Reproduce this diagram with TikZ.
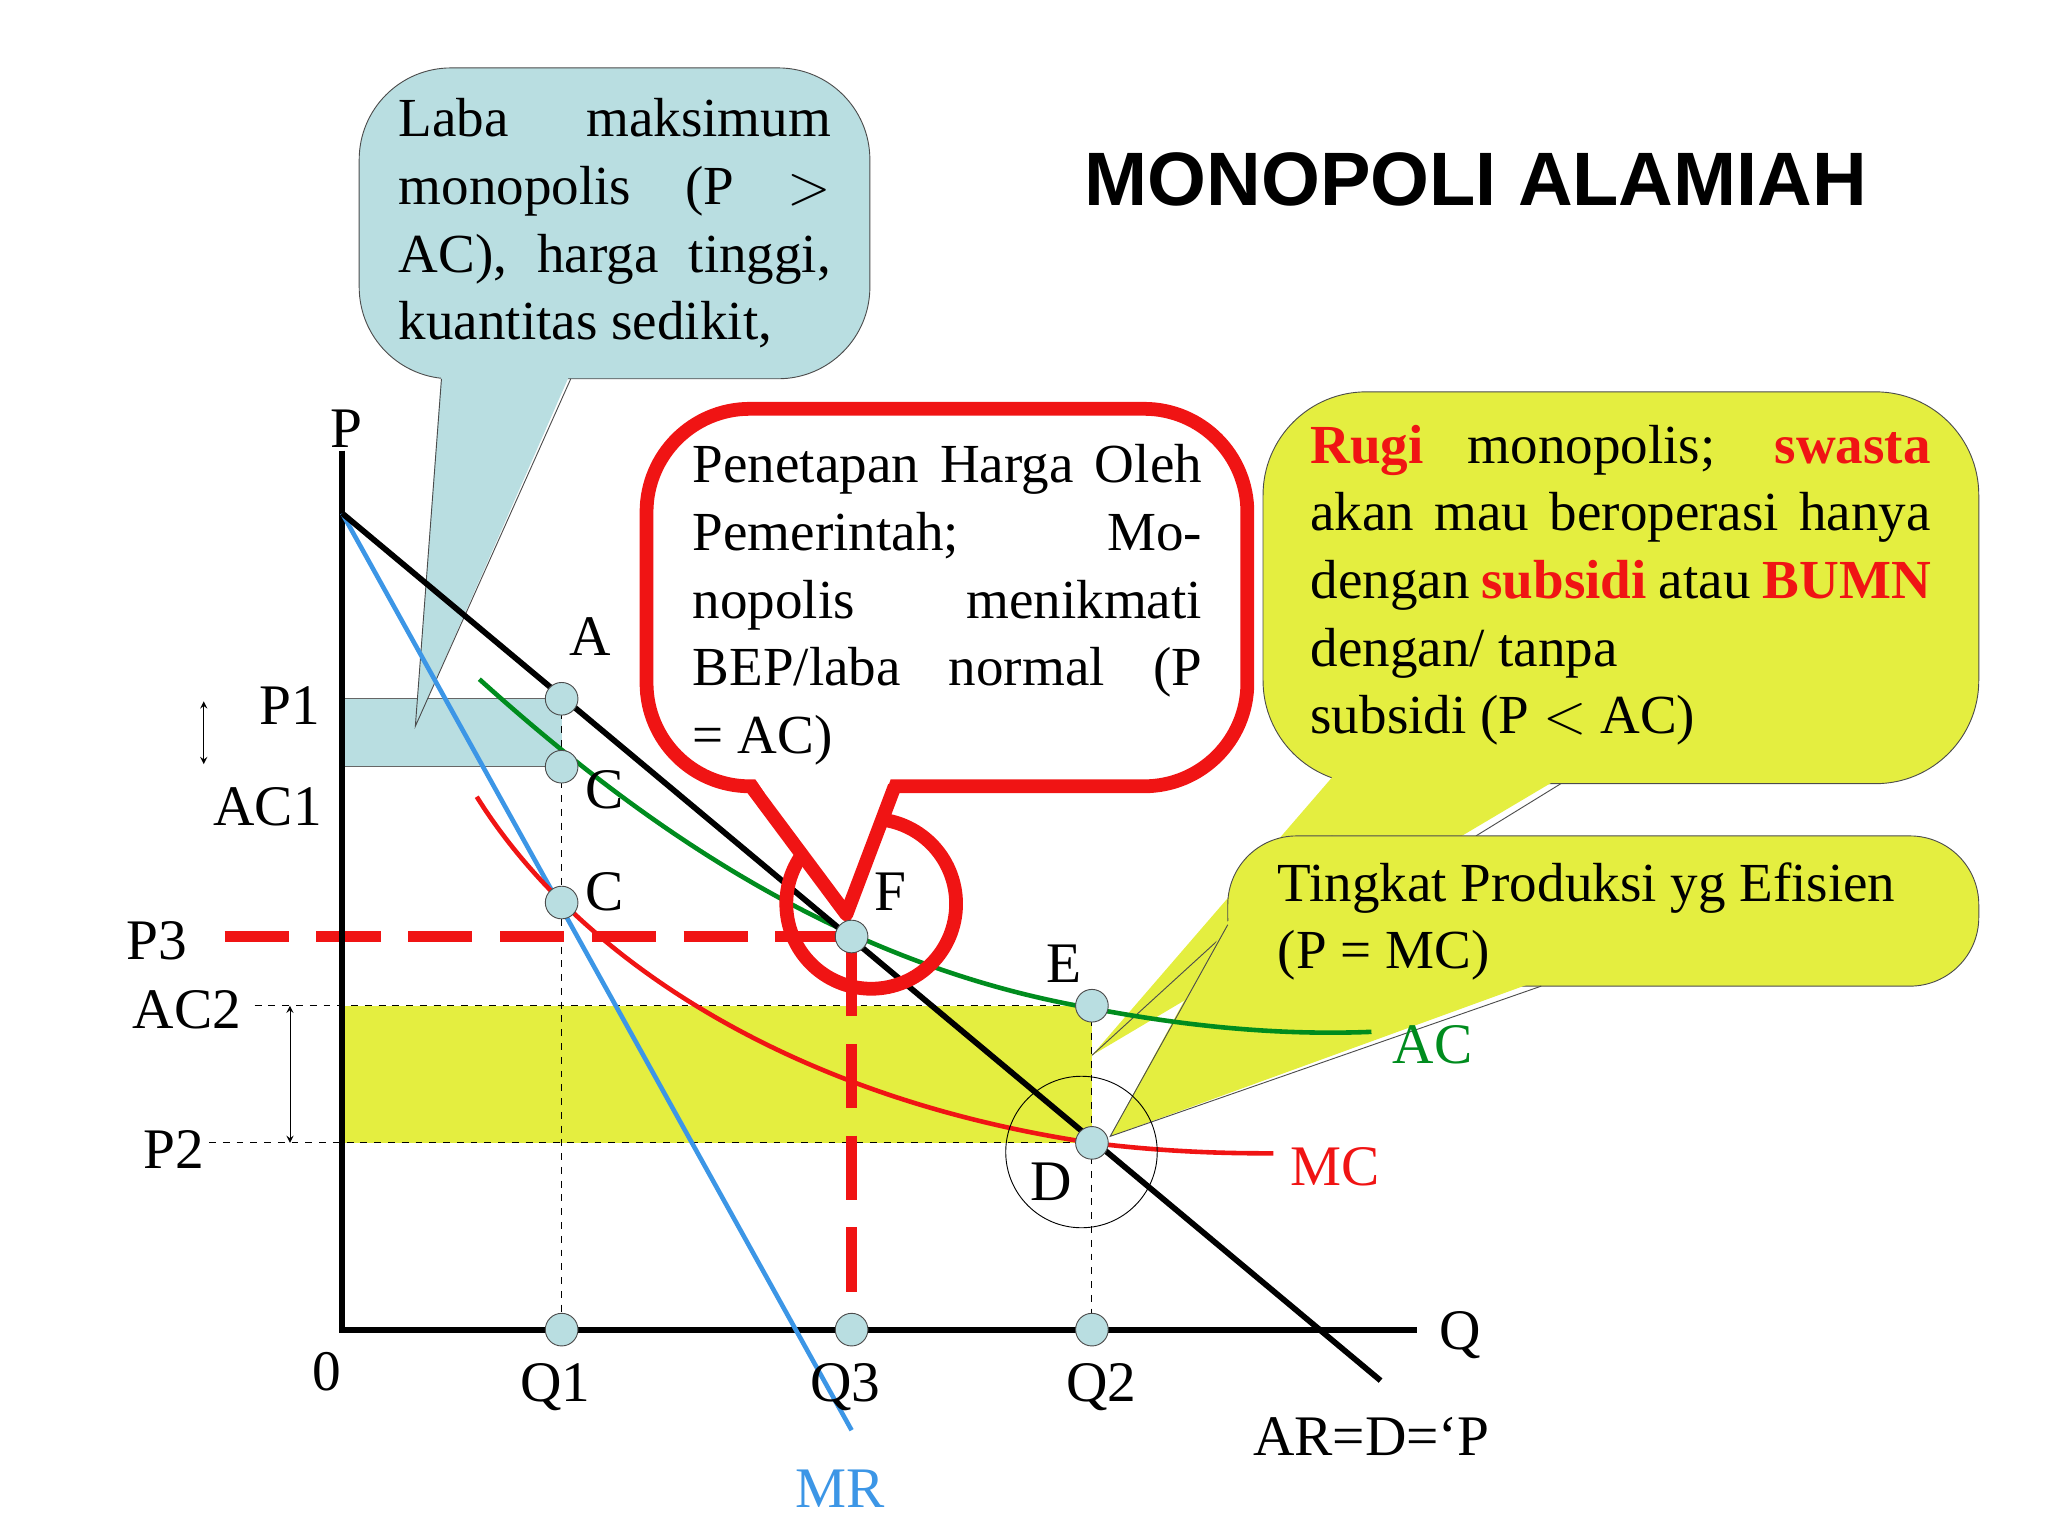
\documentclass[tikz,border=0pt]{standalone}
\usepackage{fontspec}
\setmainfont{Liberation Serif}
\setsansfont{Liberation Sans}
\definecolor{lb}{RGB}{185,222,225}
\definecolor{yl}{RGB}{228,238,64}
\definecolor{gr}{RGB}{0,140,30}
\definecolor{bl}{RGB}{60,150,230}
\definecolor{rd}{RGB}{240,20,20}
\begin{document}
\begin{tikzpicture}[x=0.02cm,y=-0.02cm,
 lbl/.style={font=\fontsize{25}{29}\selectfont,inner sep=0pt},
 pt/.style={circle,draw=black!70,fill=lb,minimum size=0.5cm,inner sep=0pt},
 ctxt/.style={font=\fontsize{24}{29.5}\selectfont,align=justify,inner sep=0pt,anchor=north west}]
\useasboundingbox (0,0) rectangle (1568,1176);
% shaded areas
\fill[lb] (262,535) rectangle (430,587);
\draw[black!60] (262,535) -- (430,535) (262,587)--(430,587);
\fill[yl] (262,770) rectangle (836,875);
% callouts
\draw[black!70,fill=lb,rounded corners=40] (275,52) rectangle (666,290);
\fill[lb] (338,285) -- (318,556) -- (437,285) -- cycle;
\draw[black!70] (338,290) -- (318,556) -- (437,290);
\node[ctxt,text width=6.62cm] (t1) at (305,75) {Laba maksimum monopolis (P $>$ AC), harga tinggi, kuantitas sedikit,};
\draw[black!70,fill=yl,rounded corners=45] (967,300) rectangle (1515,600);
\fill[yl] (1020,595) -- (836,808) -- (1195,595) -- cycle;
\draw[black!70] (1020,640) -- (836,808) (1130,640) -- (1195,600);
\node[ctxt,text width=9.5cm] (t3) at (1003,325) {\textcolor{rd}{\textbf{Rugi}} monopolis; \textcolor{rd}{\textbf{swasta}} akan mau beroperasi hanya dengan \textcolor{rd}{\textbf{subsidi}} atau \textcolor{rd}{\textbf{BUMN}} dengan/ tanpa\\ \ subsidi (P $<$ AC)};
\draw[black!70,fill=yl,rounded corners=30] (940,640) rectangle (1515,755);
\fill[yl] (940,705) -- (850,870) -- (1180,750) -- cycle;
\draw[black!70] (940,708) -- (850,870) -- (1180,755);
\node[ctxt,align=left] (t4) at (978,660) {Tingkat Produksi yg Efisien\\(P = MC)};
% dashed guides
\draw[dashed,thin] (430,535) -- (430,1018) (836,770) -- (836,1018)
 (195,770) -- (836,770) (160,875) -- (836,875);
\draw[rd,line width=5pt,dash pattern=on 28pt off 12pt] (172,717) -- (652,717) -- (652,1018);
% axes
\draw[line width=2.5pt] (262,345) -- (262,1018) -- (1085,1018);
% curves
\draw[bl,line width=2pt] (262,393) -- (652,1095);
\draw[gr,line width=2pt] (367,520) .. controls (500,640) and (650,740) .. (836,772) .. controls (930,790) and (1000,792) .. (1050,790);
\draw[rd,line width=2pt] (365,610) .. controls (440,730) and (600,840) .. (836,875) .. controls (900,883) and (950,883) .. (975,883);
\draw[line width=2.5pt] (262,393) -- (1057,1057);
% circles
\draw[rd,line width=6pt] (667,692) circle[radius=65];
\draw[black] (828,882) circle[radius=58];
% red callout
\draw[rd,line width=6pt,fill=white,rounded corners=45] (495,313) rectangle (955,602);
\fill[white] (578,596) -- (648,700) -- (682,596) -- cycle;
\draw[rd,line width=6pt,line join=round] (575,602) -- (648,700) -- (685,602);
\node[ctxt,text width=7.8cm] (t2) at (530,340) {Penetapan Harga Oleh Pemerintah; Monopolis menikmati BEP/laba normal (P = AC)};
% arrows
\draw[<->,>=stealth] (156,537) -- (156,585);
\draw[<->,>=stealth] (222,770) -- (222,875);
% points
\node[pt] (A) at (430,535) {};
\node[pt] (C1) at (430,587) {};
\node[pt] (C2) at (430,691) {};
\node[pt] (F) at (652,717) {};
\node[pt] (E) at (836,770) {};
\node[pt] (D) at (836,875) {};
\node[pt] (Q1) at (430,1018) {};
\node[pt] (Q3) at (652,1018) {};
\node[pt] (Q2) at (836,1018) {};
% labels
\node[lbl] at (265,328) {P};
\node[lbl] at (1118,1022) {Q};
\node[lbl] at (250,1050) {0};
\node[lbl] at (222,540) {P1};
\node[lbl] at (205,618) {AC1};
\node[lbl] at (120,720) {P3};
\node[lbl] at (143,773) {AC2};
\node[lbl] at (133,880) {P2};
\node[lbl] at (452,487) {A};
\node[lbl] at (463,605) {C};
\node[lbl] at (463,683) {C};
\node[lbl] at (682,683) {F};
\node[lbl] at (815,738) {E};
\node[lbl] at (805,905) {D};
\node[lbl,text=gr] at (1097,800) {AC};
\node[lbl,text=rd] at (1022,893) {MC};
\node[lbl] at (425,1062) {Q1};
\node[lbl] at (647,1062) {Q3};
\node[lbl] at (843,1062) {Q2};
\node[lbl] at (1050,1100) {AR=D=`P};
\node[lbl,text=bl] at (643,1140) {MR};
\node[font=\sffamily\bfseries\fontsize{33}{38}\selectfont,inner sep=0pt] (title) at (1130,137) {MONOPOLI ALAMIAH};
\end{tikzpicture}
\end{document}
